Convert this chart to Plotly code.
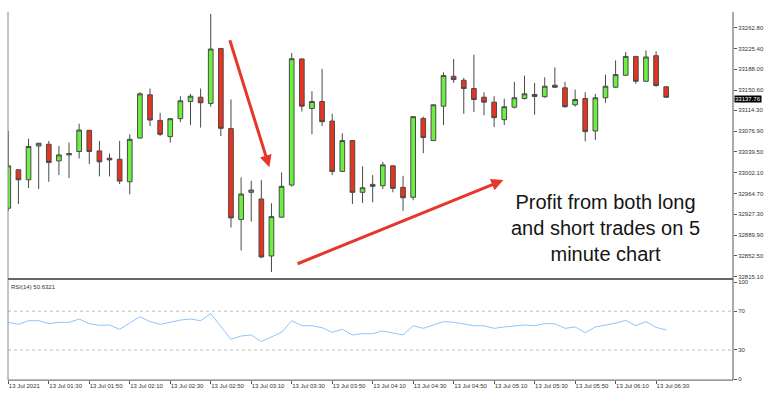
import plotly.graph_objects as go

# ---------------- data ----------------
opens = [32938.1, 33007.2, 32989.3, 33050.1, 33053.2, 33023.3, 33034.0, 33040.1, 33078.2, 33041.2,
         33028.1, 33026.3, 32985.7, 33064.4, 33142.1, 33096.1, 33067.0, 33099.2, 33130.1, 33137.8,
         33126.6, 33225.5, 33081.3, 32917.7, 32966.7, 32954.7, 32852.2, 32922.0, 32979.8, 33206.6,
         33117.6, 33130.1, 33094.9, 33004.3, 33059.8, 32966.7, 32981.0, 32978.5, 33014.3, 32975.7,
         32957.8, 33099.7, 33059.8, 33121.7, 33175.4, 33168.3, 33153.4, 33137.8, 33128.9, 33097.4,
         33119.9, 33135.5, 33142.7, 33138.6, 33159.3, 33154.7, 33124.2, 33135.5, 33077.0, 33136.8,
         33155.7, 33177.2, 33211.2, 33166.5, 33212.5, 33156.5]
highs = [33077.0, 33008.0, 33063.4, 33055.5, 33059.1, 33050.1, 33056.2, 33090.2, 33079.0, 33059.1,
         33036.5, 33059.1, 33071.1, 33146.8, 33153.4, 33109.9, 33099.5, 33139.6, 33143.9, 33153.4,
         33287.7, 33226.0, 33133.7, 32993.6, 32987.5, 32988.7, 32947.0, 33002.5, 33217.3, 33207.5,
         33148.6, 33188.7, 33108.1, 33072.9, 33060.5, 33013.3, 32997.7, 33021.5, 33015.0, 32996.4,
         33103.5, 33102.8, 33124.8, 33182.6, 33206.6, 33172.6, 33214.3, 33146.8, 33139.6, 33135.0,
         33165.4, 33176.7, 33163.6, 33173.6, 33191.5, 33165.4, 33151.6, 33146.8, 33143.9, 33178.5,
         33204.1, 33219.1, 33212.0, 33222.0, 33220.2, 33157.0]
lows = [32933.2, 32945.8, 32974.4, 32972.6, 32985.7, 32997.7, 32992.3, 33027.6, 33017.4, 32995.4,
        32995.4, 32981.6, 32963.1, 33063.4, 33085.9, 33068.0, 33056.2, 33093.1, 33087.7, 33083.1,
        33120.7, 33068.0, 32903.3, 32862.2, 32914.1, 32848.6, 32823.5, 32921.0, 32977.0, 33112.2,
        33071.1, 33085.9, 32997.7, 33003.5, 32945.8, 32947.6, 32948.8, 32972.6, 32966.7, 32933.2,
        32952.4, 33037.1, 33059.0, 33087.7, 33163.6, 33108.1, 33111.0, 33105.1, 33084.1, 33087.7,
        33117.6, 33133.7, 33106.3, 33136.8, 33154.6, 33119.0, 33120.7, 33058.5, 33060.9, 33127.8,
        33155.0, 33177.0, 33161.8, 33166.0, 33156.5, 33136.5]
closes = [33014.3, 32989.3, 33049.1, 33055.0, 33020.4, 33034.0, 33036.5, 33078.8, 33040.1, 33021.5,
          33025.1, 32986.9, 33062.1, 33143.9, 33096.7, 33071.1, 33099.2, 33131.4, 33139.6, 33127.8,
          33224.5, 33081.8, 32920.7, 32963.7, 32970.8, 32850.4, 32923.0, 32977.5, 33207.1, 33121.7,
          33130.1, 33093.8, 33004.3, 33059.8, 32966.7, 32974.9, 32977.5, 33016.1, 32973.9, 32957.0,
          33102.8, 33065.2, 33124.2, 33176.7, 33169.5, 33153.4, 33133.7, 33128.9, 33101.0, 33120.7,
          33136.8, 33143.9, 33139.1, 33157.5, 33155.7, 33120.7, 33133.7, 33075.9, 33136.8, 33157.5,
          33178.5, 33211.2, 33166.5, 33210.2, 33158.8, 33137.76]
rsi = [58.5, 56.4, 60.2, 60.2, 57.1, 58.5, 58.5, 61.9, 57.1, 55.4,
       55.7, 51.3, 57.7, 64.3, 59.2, 56.4, 58.5, 60.8, 61.9, 60.2,
       67.4, 54.0, 41.0, 44.4, 45.5, 38.7, 43.8, 48.2, 60.2, 55.0,
       55.0, 53.0, 48.2, 51.3, 45.5, 46.8, 46.8, 49.6, 47.5, 45.5,
       55.0, 52.3, 55.7, 59.2, 58.5, 56.8, 55.0, 55.0, 52.3, 53.7,
       54.7, 55.7, 55.0, 57.1, 57.1, 52.3, 53.7, 47.9, 53.7, 55.7,
       57.7, 60.5, 55.0, 59.2, 53.3, 50.6321]
candle_idx = list(range(len(opens)))

x_tick_idx = [0, 4, 8, 12, 16, 20, 24, 28, 32, 36, 40, 44, 48, 52, 56, 60, 64]
x_tick_labels = ["13 Jul 2021", "13 Jul 01:30", "13 Jul 01:50", "13 Jul 02:10", "13 Jul 02:30",
                 "13 Jul 02:50", "13 Jul 03:10", "13 Jul 03:30", "13 Jul 03:50", "13 Jul 04:10",
                 "13 Jul 04:30", "13 Jul 04:50", "13 Jul 05:10", "13 Jul 05:30", "13 Jul 05:50",
                 "13 Jul 06:10", "13 Jul 06:30"]
price_ticks = ["33262.80", "33225.40", "33188.00", "33150.60", "33114.30", "33076.90", "33039.50",
               "33002.10", "32964.70", "32927.30", "32889.90", "32852.50", "32815.10"]
rsi_ticks = ["100", "70", "30", "0"]
rsi_levels = [70, 30]
current_price = 33137.76
rsi_label = "RSI(14) 50.6321"
note_text = "Profit from both long<br>and short trades on 5<br>minute chart"
# arrows: (tail_x, tail_y, head_x, head_y) in candle index / price units
arrow_down = (21.84, 33242.9, 25.79, 33012.0)
arrow_up = (28.43, 32837.1, 48.91, 32988.7)

# ---------------- style ----------------
W, H = 768, 401
GREEN = "#6cf040"
RED = "#e8341f"
EDGE = "#4a4a4a"
AX = "#555555"
FONT = "Liberation Sans"

def px(x):
    return x / W

def py(y):
    return 1 - y / H

x_dom = [px(8), px(733)]

fig = go.Figure()
fig.add_trace(go.Candlestick(
    x=candle_idx, open=opens, high=highs, low=lows, close=closes,
    increasing=dict(fillcolor=GREEN, line=dict(color=EDGE, width=1)),
    decreasing=dict(fillcolor=RED, line=dict(color=EDGE, width=1)),
    whiskerwidth=0, showlegend=False, hoverinfo="skip",
    xaxis="x", yaxis="y"))
fig.add_trace(go.Scatter(
    x=candle_idx, y=rsi, mode="lines", line=dict(color="#90c4ff", width=1),
    showlegend=False, hoverinfo="skip", xaxis="x", yaxis="y2"))

fig.update_layout(
    width=W, height=H, margin=dict(l=0, r=0, t=0, b=0),
    paper_bgcolor="white", plot_bgcolor="white",
    font=dict(family=FONT, size=6, color="#333333"),
    boxgap=0.34,
    xaxis=dict(domain=x_dom, range=[-0.03, 71.6], anchor="y2",
               tickmode="array", tickvals=x_tick_idx, ticktext=x_tick_labels,
               ticks="outside", ticklen=3, tickcolor=AX, ticklabelposition="outside right",
               tickangle=0, tickfont=dict(size=6, color="#333333"),
               showgrid=False, zeroline=False, showline=False,
               rangeslider=dict(visible=False)),
    yaxis=dict(domain=[py(280), py(12)], range=[32811.5, 33291.2], anchor="x", side="right",
               tickmode="array", tickvals=[float(t) for t in price_ticks], ticktext=price_ticks,
               ticks="outside", ticklen=3, tickcolor=AX, tickfont=dict(size=6, color="#333333"),
               showgrid=False, zeroline=False, showline=False),
    yaxis2=dict(domain=[py(382), py(281)], range=[-1.0, 102.5], anchor="x", side="right",
                tickmode="array", tickvals=[float(t) for t in rsi_ticks], ticktext=rsi_ticks,
                ticks="outside", ticklen=3, tickcolor=AX, tickfont=dict(size=6, color="#333333"),
                showgrid=False, zeroline=False, showline=False),
)

shapes = []
for lvl in rsi_levels:
    shapes.append(dict(type="line", xref="paper", yref="y2", x0=x_dom[0], x1=x_dom[1],
                       y0=lvl, y1=lvl, line=dict(color="#bbbbbb", width=1, dash="dot")))
shapes += [
    dict(type="line", xref="paper", yref="paper", x0=px(8), x1=px(8), y0=py(12), y1=py(382),
         line=dict(color="#8a8a8a", width=1)),
    dict(type="line", xref="paper", yref="paper", x0=px(733), x1=px(733), y0=py(12), y1=py(382),
         line=dict(color=AX, width=1)),
    dict(type="line", xref="paper", yref="paper", x0=px(8), x1=px(733), y0=py(280.5), y1=py(280.5),
         line=dict(color="#666666", width=2)),
    dict(type="line", xref="paper", yref="paper", x0=px(8), x1=px(733), y0=py(382), y1=py(382),
         line=dict(color=AX, width=1)),
]
fig.update_layout(shapes=shapes)

annotations = [
    dict(xref="paper", yref="y", x=px(733.5), y=current_price, text=f"{current_price:.2f}",
         xanchor="left", yanchor="middle", yshift=-1.5, showarrow=False, bgcolor="black",
         font=dict(color="white", size=6, family=FONT), borderpad=0),
    dict(xref="paper", yref="paper", x=px(9), y=py(283), text=rsi_label, xanchor="left",
         yanchor="top", showarrow=False, font=dict(size=6, color="#333333", family=FONT)),
    dict(xref="paper", yref="paper", x=px(605), y=py(229), text=note_text, xanchor="center",
         yanchor="middle", showarrow=False, align="center",
         font=dict(size=20, color="#151515", family=FONT)),
]
for (tx, ty, hx, hy) in (arrow_down, arrow_up):
    annotations.append(dict(xref="x", yref="y", axref="x", ayref="y", x=hx, y=hy, ax=tx, ay=ty,
                            text="", showarrow=True, arrowhead=2, arrowsize=0.8, arrowwidth=3,
                            arrowcolor="#e6372a", standoff=0, startstandoff=0))
fig.update_layout(annotations=annotations)

fig.write_html("out.html")
